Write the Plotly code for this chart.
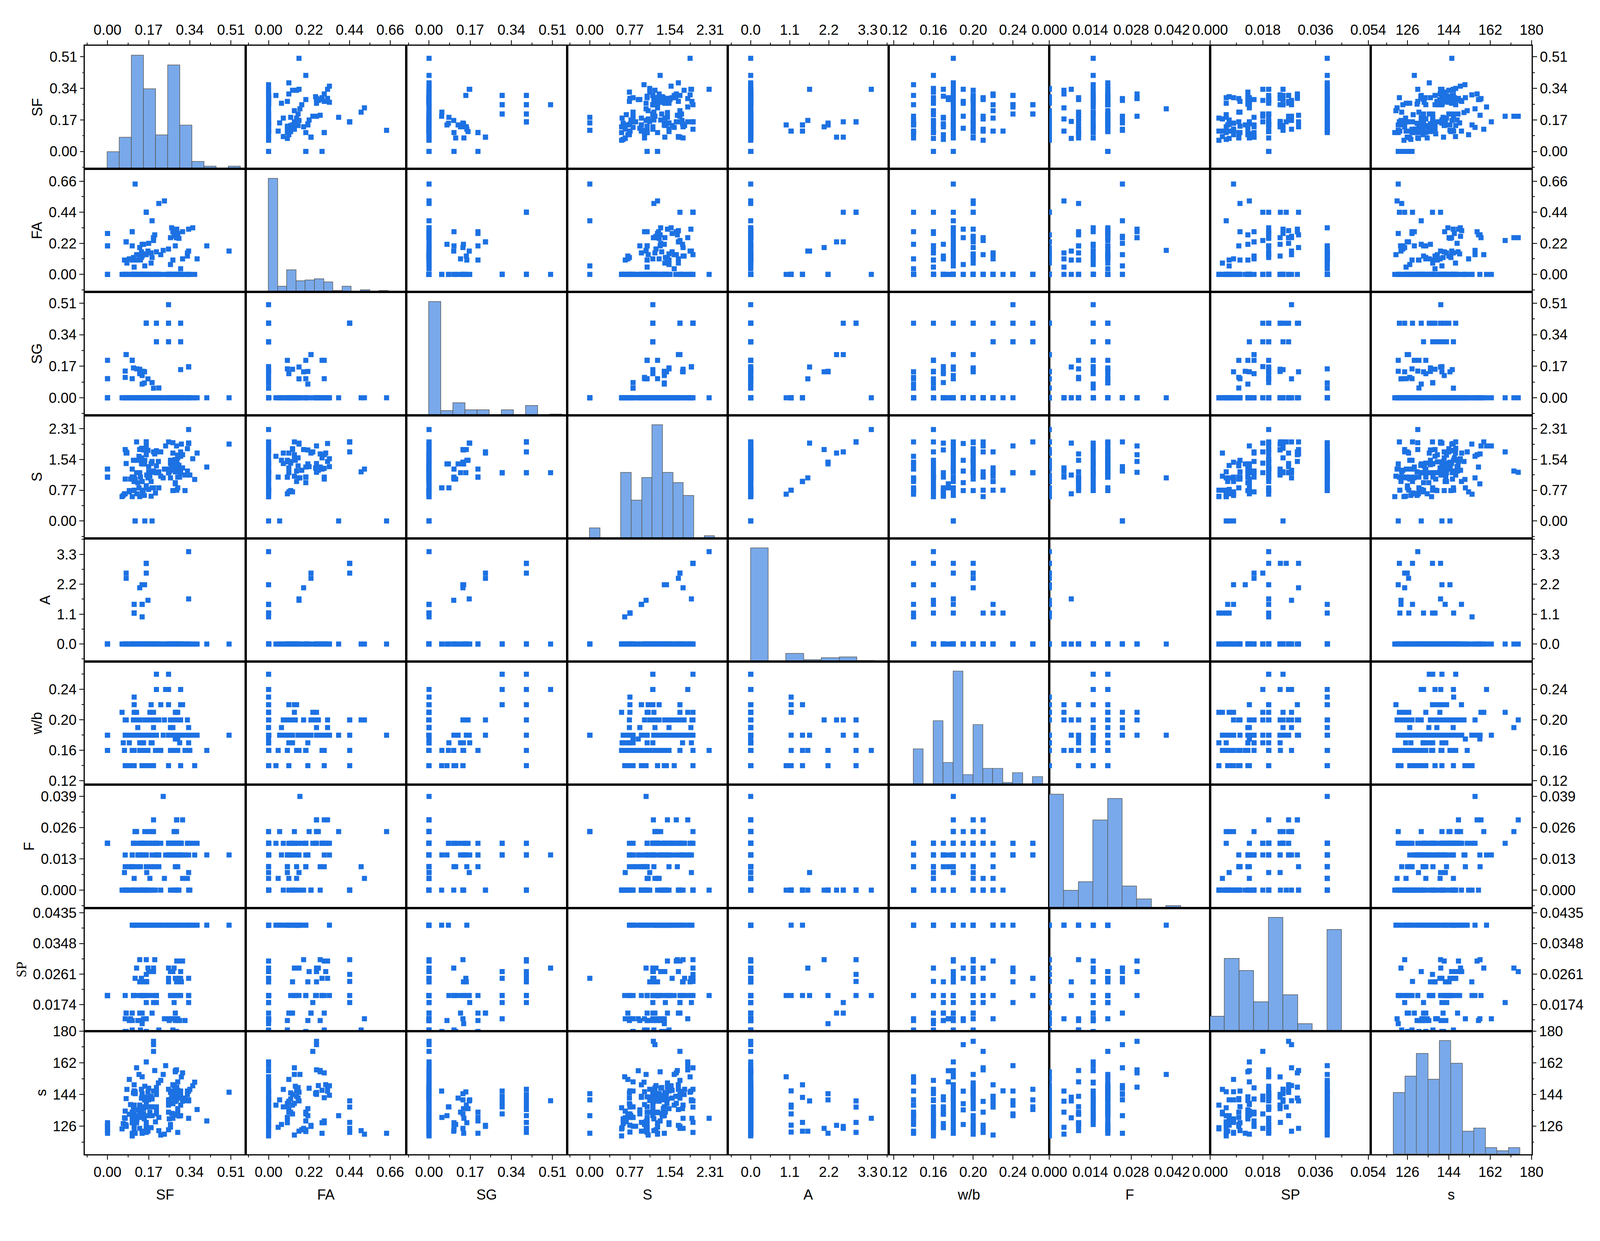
import numpy as np
import plotly.graph_objects as go

# ------------------------------------------------------------------
# Data: one entry per mix (180 mixes)
# ------------------------------------------------------------------
SF = [
    0.335, 0.16, 0.16, 0.16, 0.16, 0.16, 0.077, 0.077, 0.133, 0.143,
    0.153, 0.143, 0.167, 0.335, 0.11, 0.143, 0.11, 0.143, 0.11, 0.11,
    0.11, 0.11, 0.11, 0.11, 0.143,
    0.502, 0.102, 0.11, 0.12, 0.13, 0.14, 0.152, 0.16, 0.17, 0.18,
    0.19, 0.202, 0.21, 0.22, 0.23, 0.24, 0.252, 0.26, 0.27, 0.28,
    0.29, 0.302, 0.31, 0.32, 0.33, 0.34, 0.352, 0.36, 0.37, 0.41,
    0.12, 0.14, 0.16, 0.18, 0.202, 0.22, 0.252, 0.27, 0.29, 0.33,
    0.0, 0.0, 0.0, 0.0, 0.0, 0.0, 0.0, 0.114, 0.154, 0.184,
    0.114, 0.202, 0.252, 0.302, 0.202, 0.252, 0.302, 0.202, 0.252, 0.302,
    0.252, 0.302, 0.202, 0.252, 0.102, 0.102, 0.102, 0.107, 0.133, 0.302,
    0.335, 0.073, 0.149, 0.102, 0.149, 0.143, 0.073, 0.133, 0.143, 0.184,
    0.212,
    0.255, 0.26, 0.26, 0.265, 0.27, 0.27, 0.27, 0.275, 0.275, 0.28,
    0.28, 0.28, 0.28, 0.285, 0.285, 0.286, 0.286, 0.29, 0.29, 0.29,
    0.29, 0.29, 0.295, 0.295, 0.298, 0.27, 0.28, 0.265, 0.26, 0.285,
    0.212, 0.235, 0.305, 0.31, 0.32, 0.335, 0.06, 0.065, 0.07, 0.073,
    0.077, 0.08, 0.09, 0.09, 0.095, 0.102, 0.107, 0.11, 0.114, 0.12,
    0.121, 0.125, 0.13, 0.133, 0.136, 0.14, 0.143, 0.147, 0.152, 0.154,
    0.16, 0.16, 0.162, 0.167, 0.17, 0.17, 0.175, 0.18, 0.184, 0.19,
    0.19, 0.19, 0.195, 0.198,
]

FA = [
    0.0, 0.44, 0.44, 0.44, 0.44, 0.44, 0.23, 0.23, 0.19, 0.0,
    0.0, 0.0, 0.165, 0.165, 0.0, 0.0, 0.0, 0.0, 0.0, 0.0,
    0.0, 0.0, 0.0, 0.0, 0.0,
    0.165, 0.0, 0.052, 0.102, 0.0, 0.12, 0.0, 0.14, 0.0, 0.152,
    0.0, 0.16, 0.0, 0.0, 0.17, 0.0, 0.18, 0.07, 0.0, 0.202,
    0.0, 0.04, 0.11, 0.0, 0.13, 0.0, 0.33, 0.0, 0.11, 0.202,
    0.0, 0.16, 0.0, 0.08, 0.0, 0.14, 0.0, 0.102, 0.0, 0.152,
    0.29, 0.202, 0.0, 0.0, 0.29, 0.202, 0.0, 0.0, 0.06, 0.38,
    0.64, 0.0, 0.0, 0.0, 0.0, 0.0, 0.0, 0.0, 0.0, 0.0,
    0.0, 0.0, 0.0, 0.0, 0.102, 0.202, 0.302, 0.0, 0.13, 0.0,
    0.0, 0.0, 0.0, 0.302, 0.213, 0.0, 0.0, 0.11, 0.213, 0.0,
    0.0,
    0.0, 0.0, 0.26, 0.0, 0.0, 0.302, 0.0, 0.27, 0.0, 0.0,
    0.28, 0.0, 0.0, 0.26, 0.0, 0.0, 0.32, 0.0, 0.0, 0.29,
    0.0, 0.0, 0.255, 0.0, 0.0, 0.31, 0.0, 0.33, 0.0, 0.26,
    0.502, 0.52, 0.0, 0.302, 0.0, 0.32, 0.0, 0.0, 0.102, 0.0,
    0.0, 0.08, 0.0, 0.11, 0.0, 0.0, 0.12, 0.0, 0.0, 0.14,
    0.0, 0.0, 0.14, 0.0, 0.102, 0.0, 0.13, 0.0, 0.0, 0.145,
    0.0, 0.0, 0.0, 0.0, 0.0, 0.22, 0.0, 0.0, 0.12, 0.26,
    0.26, 0.24, 0.28, 0.0,
]

SG = [
    0.0, 0.402, 0.402, 0.402, 0.402, 0.402, 0.233, 0.233, 0.14, 0.14,
    0.14, 0.143, 0.102, 0.166, 0.0, 0.0, 0.0, 0.0, 0.0, 0.0,
    0.0, 0.0, 0.0, 0.0, 0.0,
    0.0, 0.0, 0.0, 0.156, 0.0, 0.0, 0.08, 0.0, 0.0, 0.0,
    0.052, 0.0, 0.0, 0.0, 0.0, 0.0, 0.0, 0.0, 0.0, 0.0,
    0.0, 0.0, 0.0, 0.0, 0.0, 0.0, 0.0, 0.0, 0.0, 0.0,
    0.0, 0.0, 0.0, 0.0, 0.0, 0.0, 0.0, 0.0, 0.0, 0.0,
    0.202, 0.103, 0.0, 0.0, 0.0, 0.0, 0.103, 0.0, 0.0, 0.0,
    0.0, 0.302, 0.302, 0.302, 0.302, 0.302, 0.302, 0.402, 0.402, 0.402,
    0.402, 0.402, 0.402, 0.502, 0.202, 0.202, 0.202, 0.161, 0.154, 0.152,
    0.168, 0.144, 0.14, 0.103, 0.142, 0.12, 0.11, 0.13, 0.074, 0.082,
    0.053,
    0.0, 0.0, 0.0, 0.0, 0.0, 0.0, 0.0, 0.0, 0.0, 0.0,
    0.0, 0.0, 0.0, 0.0, 0.0, 0.0, 0.0, 0.0, 0.0, 0.0,
    0.0, 0.0, 0.0, 0.0, 0.0, 0.0, 0.0, 0.0, 0.0, 0.0,
    0.0, 0.0, 0.0, 0.0, 0.0, 0.0, 0.0, 0.0, 0.0, 0.0,
    0.0, 0.0, 0.0, 0.0, 0.0, 0.0, 0.0, 0.0, 0.0, 0.0,
    0.0, 0.0, 0.0, 0.0, 0.0, 0.0, 0.0, 0.0, 0.0, 0.0,
    0.0, 0.0, 0.0, 0.0, 0.0, 0.0, 0.0, 0.0, 0.0, 0.0,
    0.0, 0.0, 0.0, 0.0,
]

S = [
    2.29, 1.98, 1.98, 1.98, 1.98, 1.73, 1.73, 1.70, 1.79, 1.47,
    1.47, 1.43, 1.08, 1.95, 0.99, 0.99, 0.99, 0.99, 0.77, 0.77,
    0.77, 0.77, 0.77, 0.77, 0.67,
    1.925, 1.30, 1.10, 1.52, 0.83, 1.45, 1.43, 1.66, 1.23, 0.99,
    0.83, 1.38, 1.49, 1.73, 1.08, 1.88, 1.27, 1.52, 1.96, 0.96,
    1.41, 1.62, 1.33, 0.76, 1.81, 1.15, 1.56, 1.04, 1.70, 1.35,
    1.21, 1.58, 0.88, 1.44, 1.76, 1.12, 1.30, 1.48, 1.65, 1.25,
    1.30, 1.10, 1.30, 1.10, 1.30, 1.10, 1.30, 0.0, 0.0, 0.0,
    0.0, 1.21, 1.21, 1.21, 1.21, 1.21, 1.21, 1.21, 1.21, 1.73,
    1.98, 1.21, 1.73, 1.21, 1.10, 1.10, 1.10, 1.52, 1.79, 1.21,
    1.95, 1.79, 1.43, 1.05, 1.78, 1.43, 1.05, 1.21, 1.43, 0.83,
    0.83,
    1.23, 1.30, 1.44, 1.38, 1.52, 1.32, 0.76, 1.27, 1.45, 1.23,
    1.35, 0.93, 1.54, 1.30, 1.38, 0.77, 1.49, 1.23, 1.10, 1.58,
    1.28, 0.83, 1.33, 1.39, 1.10, 1.70, 1.25, 1.36, 1.08, 1.88,
    1.23, 1.30, 1.925, 1.66, 1.15, 1.94, 0.61, 0.64, 0.68, 0.68,
    1.44, 1.70, 0.76, 0.73, 1.05, 0.61, 0.76, 1.08, 1.05, 1.98,
    0.68, 0.96, 1.62, 0.61, 1.10, 1.82, 0.73, 0.77, 0.64, 1.52,
    1.88, 0.83, 1.15, 1.77, 0.79, 1.36, 1.12, 0.62, 1.49, 1.22,
    1.25, 1.73, 1.68, 0.70,
]

A = [
    3.40, 2.97, 2.97, 2.97, 2.97, 2.61, 2.61, 2.42, 2.07, 2.18,
    2.18, 2.18, 1.61, 1.66, 1.46, 1.46, 1.46, 1.46, 1.14, 1.14,
    1.14, 1.14, 1.14, 1.14, 1.00,
    0.0, 0.0, 0.0, 0.0, 0.0, 0.0, 0.0, 0.0, 0.0, 0.0,
    0.0, 0.0, 0.0, 0.0, 0.0, 0.0, 0.0, 0.0, 0.0, 0.0,
    0.0, 0.0, 0.0, 0.0, 0.0, 0.0, 0.0, 0.0, 0.0, 0.0,
    0.0, 0.0, 0.0, 0.0, 0.0, 0.0, 0.0, 0.0, 0.0, 0.0,
    0.0, 0.0, 0.0, 0.0, 0.0, 0.0, 0.0, 0.0, 0.0, 0.0,
    0.0, 0.0, 0.0, 0.0, 0.0, 0.0, 0.0, 0.0, 0.0, 0.0,
    0.0, 0.0, 0.0, 0.0, 0.0, 0.0, 0.0, 0.0, 0.0, 0.0,
    0.0, 0.0, 0.0, 0.0, 0.0, 0.0, 0.0, 0.0, 0.0, 0.0,
    0.0,
    0.0, 0.0, 0.0, 0.0, 0.0, 0.0, 0.0, 0.0, 0.0, 0.0,
    0.0, 0.0, 0.0, 0.0, 0.0, 0.0, 0.0, 0.0, 0.0, 0.0,
    0.0, 0.0, 0.0, 0.0, 0.0, 0.0, 0.0, 0.0, 0.0, 0.0,
    0.0, 0.0, 0.0, 0.0, 0.0, 0.0, 0.0, 0.0, 0.0, 0.0,
    0.0, 0.0, 0.0, 0.0, 0.0, 0.0, 0.0, 0.0, 0.0, 0.0,
    0.0, 0.0, 0.0, 0.0, 0.0, 0.0, 0.0, 0.0, 0.0, 0.0,
    0.0, 0.0, 0.0, 0.0, 0.0, 0.0, 0.0, 0.0, 0.0, 0.0,
    0.0, 0.0, 0.0, 0.0,
]

WB = [
    0.16, 0.20, 0.18, 0.16, 0.14, 0.20, 0.18, 0.20, 0.20, 0.16,
    0.14, 0.16, 0.16, 0.18, 0.22, 0.18, 0.16, 0.14, 0.23, 0.22,
    0.21, 0.18, 0.16, 0.14, 0.14,
    0.18, 0.14, 0.16, 0.20, 0.18, 0.18, 0.16, 0.20, 0.18, 0.22,
    0.14, 0.18, 0.20, 0.16, 0.18, 0.24, 0.18, 0.19, 0.20, 0.16,
    0.18, 0.14, 0.22, 0.18, 0.20, 0.16, 0.18, 0.14, 0.18, 0.16,
    0.20, 0.18, 0.16, 0.20, 0.18, 0.22, 0.14, 0.18, 0.20, 0.16,
    0.16, 0.18, 0.18, 0.16, 0.18, 0.16, 0.18, 0.18, 0.18, 0.18,
    0.18, 0.26, 0.26, 0.24, 0.24, 0.22, 0.22, 0.26, 0.24, 0.22,
    0.26, 0.24, 0.18, 0.24, 0.16, 0.16, 0.16, 0.20, 0.18, 0.20,
    0.17, 0.20, 0.14, 0.14, 0.17, 0.18, 0.14, 0.17, 0.14, 0.17,
    0.16,
    0.18, 0.18, 0.20, 0.18, 0.16, 0.18, 0.19, 0.20, 0.18, 0.21,
    0.18, 0.175, 0.20, 0.18, 0.16, 0.18, 0.20, 0.18, 0.21, 0.18,
    0.16, 0.175, 0.20, 0.18, 0.17, 0.18, 0.20, 0.18, 0.16, 0.21,
    0.20, 0.20, 0.18, 0.18, 0.16, 0.19, 0.21, 0.17, 0.16, 0.18,
    0.20, 0.18, 0.17, 0.14, 0.18, 0.16, 0.20, 0.14, 0.20, 0.21,
    0.18, 0.19, 0.20, 0.16, 0.18, 0.18, 0.17, 0.14, 0.18, 0.20,
    0.18, 0.16, 0.20, 0.18, 0.14, 0.18, 0.21, 0.17, 0.18, 0.20,
    0.19, 0.21, 0.18, 0.16,
]

F = [
    0.0, 0.0, 0.0, 0.0, 0.0, 0.0, 0.0, 0.0, 0.0, 0.0,
    0.0, 0.0, 0.0, 0.0075, 0.0, 0.0, 0.0, 0.0, 0.0, 0.0,
    0.0, 0.0, 0.0, 0.0, 0.0,
    0.015, 0.0, 0.005, 0.01, 0.015, 0.02, 0.02, 0.015, 0.02, 0.01,
    0.0, 0.02, 0.015, 0.02, 0.04, 0.015, 0.02, 0.015, 0.02, 0.01,
    0.015, 0.02, 0.005, 0.015, 0.02, 0.0, 0.02, 0.015, 0.02, 0.015,
    0.02, 0.015, 0.01, 0.02, 0.015, 0.0, 0.02, 0.015, 0.02, 0.005,
    0.02, 0.02, 0.02, 0.02, 0.02, 0.02, 0.02, 0.025, 0.025, 0.025,
    0.025, 0.015, 0.02, 0.015, 0.02, 0.015, 0.02, 0.015, 0.02, 0.015,
    0.02, 0.015, 0.02, 0.015, 0.015, 0.01, 0.015, 0.02, 0.015, 0.02,
    0.015, 0.015, 0.02, 0.01, 0.015, 0.02, 0.01, 0.015, 0.015, 0.02,
    0.015,
    0.015, 0.02, 0.02, 0.015, 0.0, 0.02, 0.015, 0.025, 0.02, 0.02,
    0.0, 0.015, 0.02, 0.025, 0.0, 0.015, 0.03, 0.02, 0.0, 0.02,
    0.015, 0.01, 0.02, 0.0, 0.015, 0.02, 0.025, 0.015, 0.0, 0.03,
    0.01, 0.005, 0.02, 0.03, 0.015, 0.02, 0.0, 0.0, 0.0075, 0.0,
    0.0, 0.0, 0.01, 0.0, 0.0, 0.0, 0.02, 0.0, 0.0, 0.025,
    0.0, 0.015, 0.02, 0.0, 0.01, 0.02, 0.0, 0.0, 0.0, 0.02,
    0.015, 0.0, 0.0075, 0.02, 0.0, 0.025, 0.005, 0.0, 0.015, 0.03,
    0.025, 0.02, 0.01, 0.0,
]

SP = [
    0.02, 0.0302, 0.026, 0.024, 0.02, 0.018, 0.015, 0.015, 0.0302, 0.02,
    0.008, 0.012, 0.0278, 0.02, 0.04, 0.02, 0.008, 0.006, 0.04, 0.02,
    0.0065, 0.0055, 0.0042, 0.003, 0.02,
    0.04, 0.04, 0.04, 0.04, 0.04, 0.04, 0.04, 0.04, 0.04, 0.04,
    0.04, 0.04, 0.04, 0.04, 0.04, 0.04, 0.04, 0.04, 0.04, 0.04,
    0.04, 0.04, 0.04, 0.04, 0.04, 0.04, 0.04, 0.04, 0.04, 0.04,
    0.04, 0.04, 0.04, 0.04, 0.04, 0.04, 0.04, 0.04, 0.04, 0.04,
    0.02, 0.02, 0.02, 0.02, 0.02, 0.02, 0.02, 0.0249, 0.0065, 0.0055,
    0.008, 0.02, 0.0249, 0.0268, 0.018, 0.0134, 0.02, 0.02, 0.0239, 0.0298,
    0.0249, 0.0268, 0.02, 0.0278, 0.0129, 0.0098, 0.015, 0.02, 0.0239, 0.0249,
    0.018, 0.02, 0.0134, 0.0102, 0.0239, 0.02, 0.0098, 0.015, 0.0129, 0.02,
    0.0098,
    0.0129, 0.02, 0.0268, 0.0134, 0.0102, 0.02, 0.0134, 0.0278, 0.018, 0.0249,
    0.0129, 0.0134, 0.02, 0.0239, 0.0098, 0.0134, 0.0298, 0.0055, 0.008, 0.0249,
    0.0129, 0.0134, 0.02, 0.0065, 0.0129, 0.0268, 0.015, 0.02, 0.0055, 0.02,
    0.0102, 0.0134, 0.0239, 0.0298, 0.0129, 0.0249, 0.003, 0.0055, 0.0065, 0.0134,
    0.0098, 0.0042, 0.0129, 0.008, 0.0134, 0.0055, 0.02, 0.0065, 0.008, 0.0278,
    0.008, 0.0129, 0.02, 0.0055, 0.0102, 0.0249, 0.015, 0.0065, 0.008, 0.02,
    0.0134, 0.0098, 0.0239, 0.02, 0.0065, 0.0268, 0.0042, 0.003, 0.015, 0.0268,
    0.0278, 0.018, 0.0302, 0.0055,
]

s_vals = [
    130.5, 140.4, 136.9, 128.2, 122.5, 124.8, 125.9, 126.5, 124.8, 144.5,
    141.0, 122.0, 123.2, 140.4, 149.5, 142.4, 128.2, 123.2, 146.1, 136.9,
    126.6, 122.7, 133.0, 138.0, 154.1,
    145.3, 122.0, 125.4, 128.0, 131.0, 134.0, 137.0, 139.0, 141.0, 143.0,
    146.0, 148.0, 150.6, 152.0, 155.4, 160.4, 124.0, 127.0, 130.5, 133.0,
    136.0, 138.0, 140.2, 142.0, 144.0, 147.0, 149.0, 151.0, 135.5, 129.0,
    132.0, 142.0, 126.0, 137.0, 145.8, 121.0, 134.0, 139.0, 143.0, 146.0,
    122.0, 124.0, 126.0, 127.0, 128.0, 123.0, 125.5, 144.5, 141.0, 132.0,
    122.0, 137.0, 141.0, 146.0, 133.0, 139.0, 143.0, 135.5, 138.0, 142.0,
    147.0, 132.0, 144.0, 140.5, 131.0, 134.0, 129.0, 136.0, 138.0, 145.5,
    141.0, 130.5, 133.0, 128.0, 136.0, 142.0, 127.0, 134.0, 132.0, 137.0,
    131.0,
    130.2, 141.2, 145.2, 133.3, 146.0, 142.2, 138.8, 149.1, 143.1, 140.1,
    156.9, 157.5, 147.3, 144.1, 141.0, 132.3, 148.2, 145.6, 122.5, 146.4,
    133.7, 151.2, 144.6, 131.8, 142.7, 149.6, 147.8, 143.6, 125.5, 158.0,
    123.5, 121.5, 154.0, 156.3, 140.6, 145.9, 124.5, 127.5, 130.8, 134.6,
    141.7, 146.9, 132.8, 152.6, 138.3, 120.5, 144.9, 128.8, 145.6, 159.2,
    129.5, 135.3, 155.4, 136.5, 137.1, 147.0, 133.0, 131.0, 130.2, 148.7,
    162.5, 126.0, 142.5, 145.4, 132.0, 147.6, 134.0, 125.2, 141.5, 174.2,
    172.3, 168.5, 157.6, 128.5,
]

VAR_NAMES = ["SF", "FA", "SG", "S", "A", "w/b", "F", "SP", "s"]

# tick values / labels of the column (x) axes
COL_TICKVALS = [
    [0.0, 0.17, 0.34, 0.51],
    [0.0, 0.22, 0.44, 0.66],
    [0.0, 0.17, 0.34, 0.51],
    [0.0, 0.77, 1.54, 2.31],
    [0.0, 1.1, 2.2, 3.3],
    [0.12, 0.16, 0.20, 0.24],
    [0.0, 0.014, 0.028, 0.042],
    [0.0, 0.018, 0.036, 0.054],
    [126, 144, 162, 180],
]
COL_TICKTEXT = [
    ["0.00", "0.17", "0.34", "0.51"],
    ["0.00", "0.22", "0.44", "0.66"],
    ["0.00", "0.17", "0.34", "0.51"],
    ["0.00", "0.77", "1.54", "2.31"],
    ["0.0", "1.1", "2.2", "3.3"],
    ["0.12", "0.16", "0.20", "0.24"],
    ["0.000", "0.014", "0.028", "0.042"],
    ["0.000", "0.018", "0.036", "0.054"],
    ["126", "144", "162", "180"],
]
# tick values / labels of the row (y) axes
ROW_TICKVALS = [
    [0.0, 0.17, 0.34, 0.51],
    [0.0, 0.22, 0.44, 0.66],
    [0.0, 0.17, 0.34, 0.51],
    [0.0, 0.77, 1.54, 2.31],
    [0.0, 1.1, 2.2, 3.3],
    [0.12, 0.16, 0.20, 0.24],
    [0.0, 0.04 / 3, 0.08 / 3, 0.04],
    [0.0174, 0.0261, 0.0348, 0.0435],
    [126, 144, 162, 180],
]
ROW_TICKTEXT = [
    ["0.00", "0.17", "0.34", "0.51"],
    ["0.00", "0.22", "0.44", "0.66"],
    ["0.00", "0.17", "0.34", "0.51"],
    ["0.00", "0.77", "1.54", "2.31"],
    ["0.0", "1.1", "2.2", "3.3"],
    ["0.12", "0.16", "0.20", "0.24"],
    ["0.000", "0.013", "0.026", "0.039"],
    ["0.0174", "0.0261", "0.0348", "0.0435"],
    ["126", "144", "162", "180"],
]
# histogram bins (first edge, width, last edge)
HIST_BINS = [
    (0.0, 0.05, 0.55),
    (0.0, 0.05, 0.65),
    (0.0, 0.05, 0.55),
    (0.0, 0.2, 2.4),
    (0.0, 0.5, 3.5),
    (0.14, 0.01, 0.27),
    (0.0, 0.005, 0.045),
    (0.0, 0.005, 0.045),
    (120.0, 5.0, 175.0),
]

# ------------------------------------------------------------------
# Styling / layout
# ------------------------------------------------------------------
X_RANGE = [
    [-0.094, 0.570], [-0.125, 0.747], [-0.094, 0.570], [-0.437, 2.649],
    [-0.645, 3.887], [0.1149, 0.2766], [0.0, 0.055], [0.0, 0.0549],
    [110.1, 180.02],
]
Y_RANGE = [
    [-0.094, 0.570], [-0.125, 0.747], [-0.094, 0.570], [-0.437, 2.649],
    [-0.645, 3.887], [0.1149, 0.2766], [-0.0076, 0.045], [0.0099, 0.0449],
    [110.1, 180.02],
]

K = 4096 / 4192          # css px per screenshot px
FONT = "Liberation Sans, Arial, Helvetica, sans-serif"
FONT_SIZE = 37.5 * K
BLUE = "#1C71E3"
BAR_FILL = "#79A9EA"
BAR_EDGE = "#5A5A5A"
LW = 2.7 * K
TW = 2.0 * K
TICKLEN = 11 * K
MINORLEN = 5.5 * K
MS = 13.3 * K
W, H = 4070, 3075
N = 9

columns = [SF, FA, SG, S, A, WB, F, SP, s_vals]


def sid(k):
    return "" if k == 1 else str(k)


def base_axis(**kw):
    d = dict(showline=True, mirror=True, linecolor="black", linewidth=LW,
             showgrid=False, zeroline=False, ticks="", showticklabels=False,
             fixedrange=True)
    d.update(kw)
    return d


def tick_style(vals, labels, rng, side):
    step = vals[1] - vals[0]
    cands = [vals[0] - step / 2] + [v + step / 2 for v in vals]
    minor = [m for m in cands if rng[0] <= m <= rng[1]]
    return dict(side=side, ticks="outside", ticklen=TICKLEN, tickwidth=TW,
                tickcolor="black", tickmode="array", tickvals=vals,
                ticktext=labels, showticklabels=True,
                tickfont=dict(family=FONT, size=FONT_SIZE, color="black"),
                minor=dict(tickmode="array", tickvals=minor, ticks="outside",
                           ticklen=MINORLEN, tickwidth=TW, tickcolor="black"))


def title_font(name):
    fam = "Liberation Serif, Times New Roman, serif" if name == "SP" else FONT
    return dict(family=fam, size=FONT_SIZE, color="black")


layout = dict(
    width=W, height=H, autosize=False,
    margin=dict(l=222 * K - 8, r=W - (4013 * K - 8), t=120 * K - 8,
                b=H - (3028 * K - 8), pad=0),
    paper_bgcolor="white", plot_bgcolor="white",
    showlegend=False, bargap=0, hovermode=False,
    font=dict(family=FONT, size=FONT_SIZE, color="black"),
)

traces = []
hist_max = []
for i in range(N):
    start, size, end = HIST_BINS[i]
    edges = np.arange(start, end + size / 2, size) - size * 1e-3
    counts, _ = np.histogram(columns[i], bins=edges)
    hist_max.append(counts.max())

for r in range(N):
    for c in range(N):
        k = r * N + c + 1
        xa = base_axis(domain=[c / N, (c + 1) / N], anchor="y" + sid(k),
                       range=X_RANGE[c])
        if r == 0:
            xa.update(tick_style(COL_TICKVALS[c], COL_TICKTEXT[c], X_RANGE[c], "top"))
        elif r == N - 1:
            xa.update(tick_style(COL_TICKVALS[c], COL_TICKTEXT[c], X_RANGE[c], "bottom"))
            xa["title"] = dict(text=VAR_NAMES[c], font=title_font(""), standoff=26)
        if r == c:
            ya = base_axis(domain=[1 - (r + 1) / N, 1 - r / N], anchor="x" + sid(k),
                           range=[0, hist_max[r] / 0.921])
        else:
            ya = base_axis(domain=[1 - (r + 1) / N, 1 - r / N], anchor="x" + sid(k),
                           range=Y_RANGE[r])
            if c == 0:
                ya.update(tick_style(ROW_TICKVALS[r], ROW_TICKTEXT[r], Y_RANGE[r], "left"))
                ya["title"] = dict(text=VAR_NAMES[r], font=title_font(VAR_NAMES[r]), standoff=6)
            elif c == N - 1:
                ya.update(tick_style(ROW_TICKVALS[r], ROW_TICKTEXT[r], Y_RANGE[r], "right"))
        layout["xaxis" + sid(k)] = xa
        layout["yaxis" + sid(k)] = ya

        if r == c:
            start, size, end = HIST_BINS[r]
            traces.append(go.Histogram(
                x=columns[c], xbins=dict(start=start - size * 1e-3, end=end, size=size),
                xaxis="x" + sid(k), yaxis="y" + sid(k),
                marker=dict(color=BAR_FILL, line=dict(color=BAR_EDGE, width=1.5 * K)),
                hoverinfo="skip"))
        else:
            traces.append(go.Scatter(
                x=columns[c], y=columns[r], mode="markers",
                xaxis="x" + sid(k), yaxis="y" + sid(k),
                marker=dict(symbol="square", size=MS, color=BLUE, line=dict(width=0)),
                hoverinfo="skip"))

# value axes for the two corner histogram cells (ticks only)
k_last = N * N
ov1 = dict(overlaying="y", anchor="x", range=Y_RANGE[0], showline=False,
           showgrid=False, zeroline=False, fixedrange=True)
ov1.update(tick_style(ROW_TICKVALS[0], ROW_TICKTEXT[0], Y_RANGE[0], "left"))
ov1["title"] = dict(text=VAR_NAMES[0], font=title_font(VAR_NAMES[0]), standoff=6)
ov2 = dict(overlaying="y" + sid(k_last), anchor="x" + sid(k_last), range=Y_RANGE[N - 1],
           showline=False, showgrid=False, zeroline=False, fixedrange=True)
ov2.update(tick_style(ROW_TICKVALS[N - 1], ROW_TICKTEXT[N - 1], Y_RANGE[N - 1], "right"))
layout["yaxis%d" % (N * N + 1)] = ov1
layout["yaxis%d" % (N * N + 2)] = ov2
traces.append(go.Scatter(x=[], y=[], xaxis="x", yaxis="y%d" % (N * N + 1),
                         mode="markers", hoverinfo="skip"))
traces.append(go.Scatter(x=[], y=[], xaxis="x" + sid(k_last), yaxis="y%d" % (N * N + 2),
                         mode="markers", hoverinfo="skip"))

fig = go.Figure(data=traces, layout=layout)
fig.write_html("out.html")
